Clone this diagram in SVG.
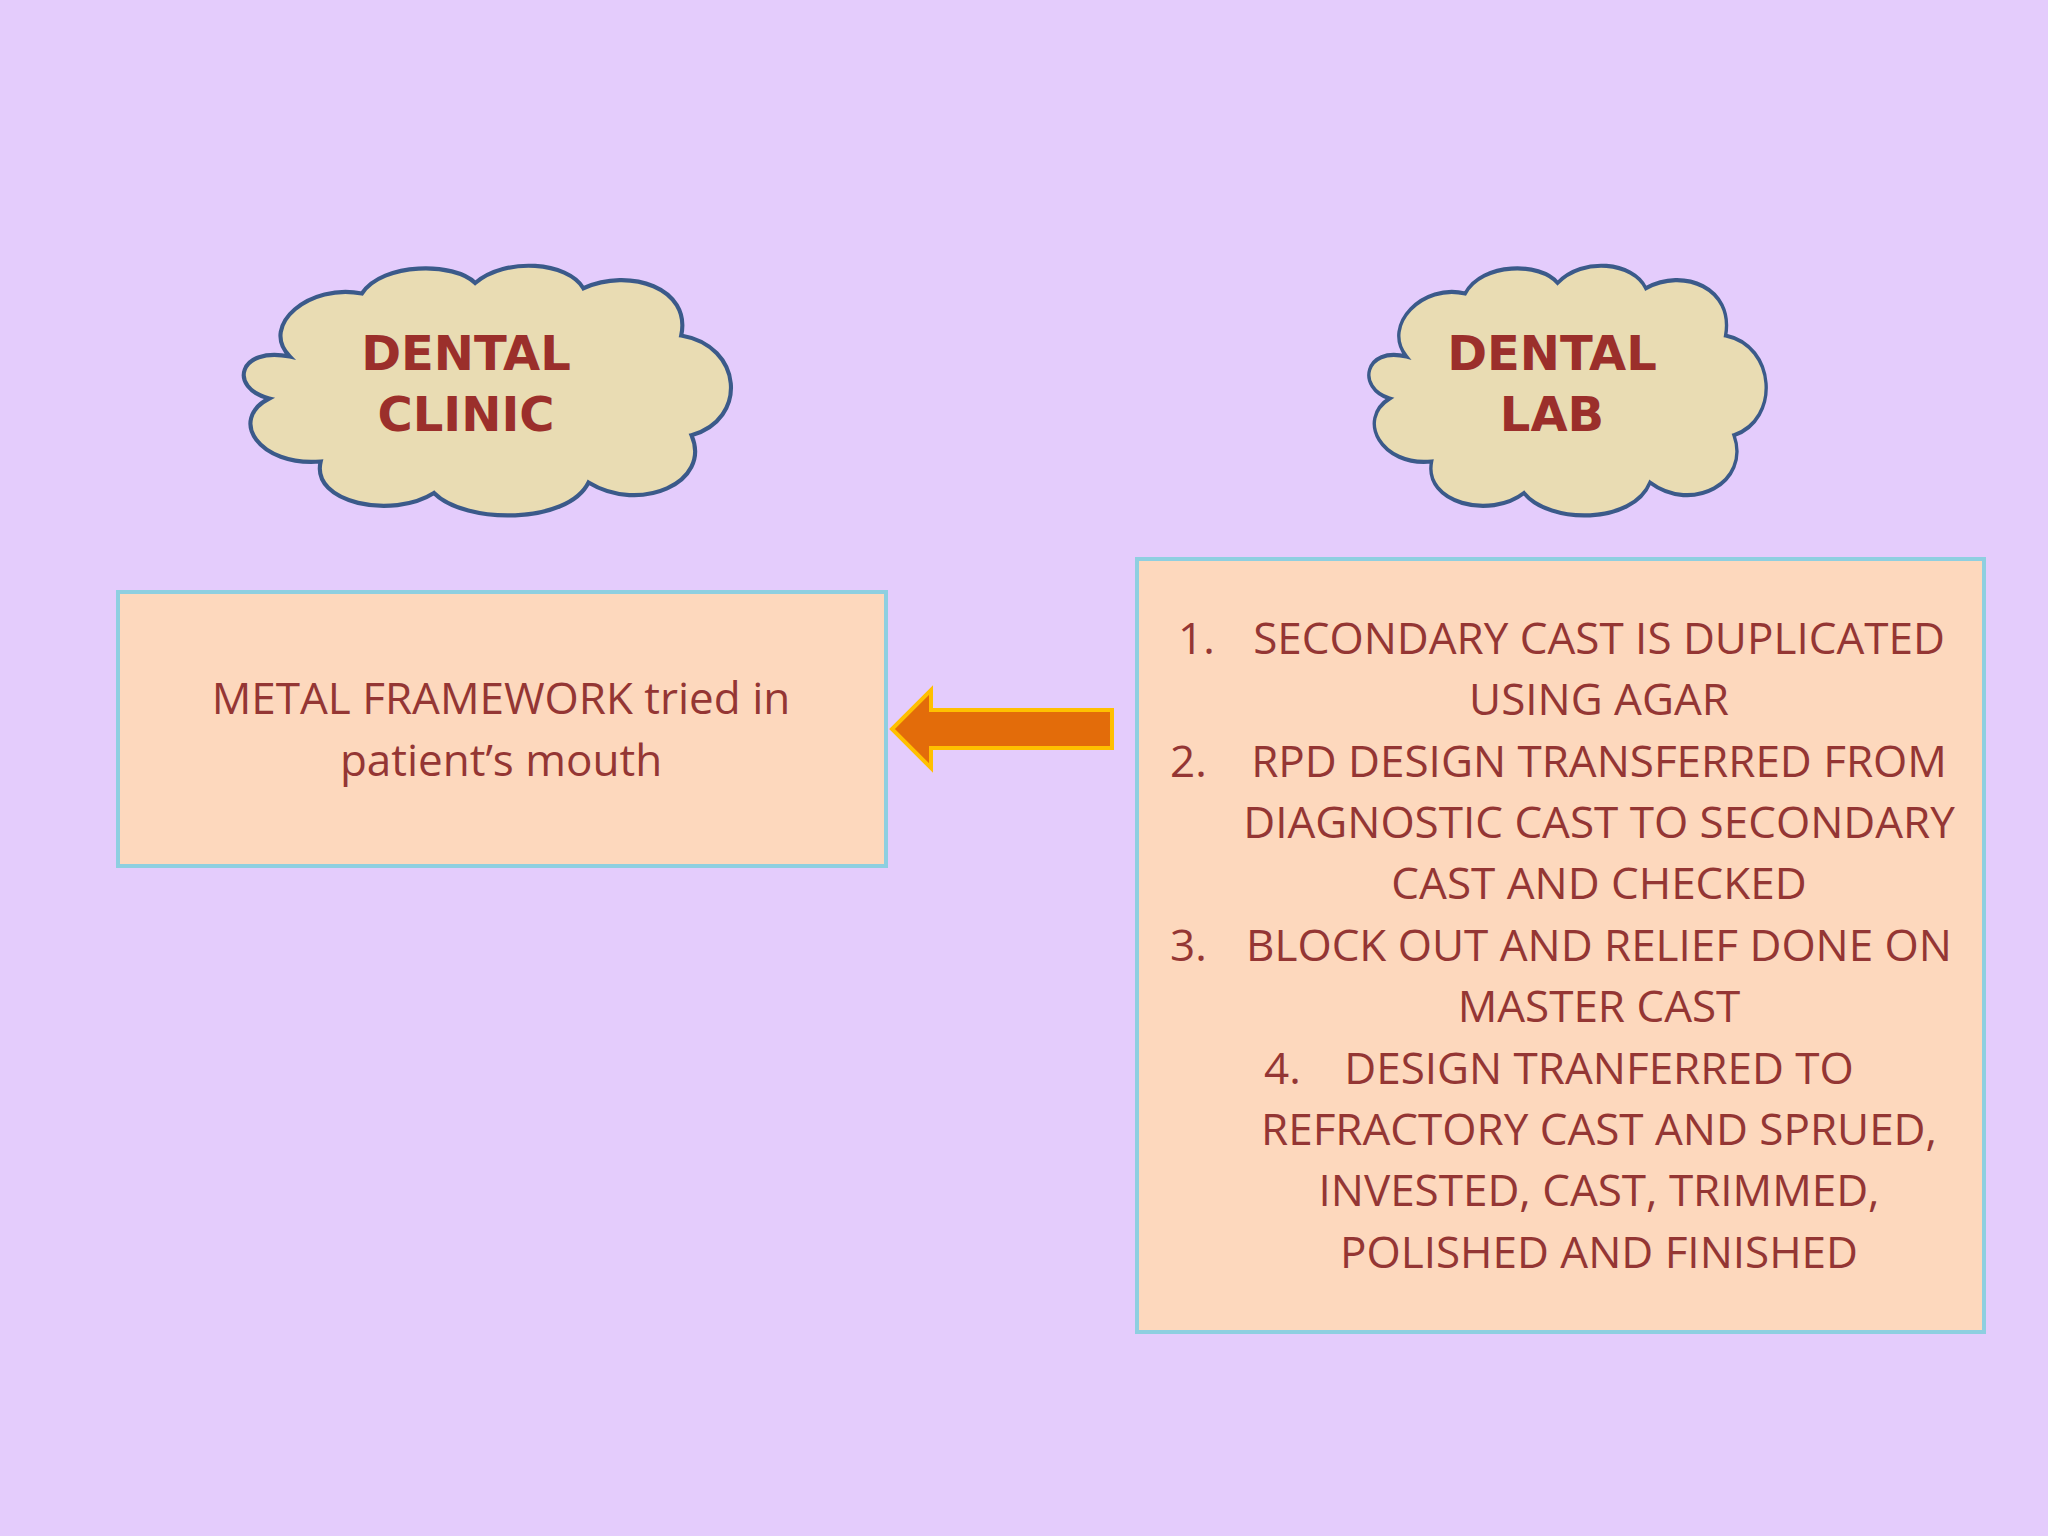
<svg xmlns="http://www.w3.org/2000/svg" width="2048" height="1536" viewBox="0 0 2048 1536">
<style>
.box{fill:#fdd8bd;stroke:#8ecfe0;stroke-width:4}
.cloud{fill:#e9dcb3;stroke:#3b5a8a;stroke-width:4}
.ct{font-family:"DejaVu Sans",sans-serif;font-weight:bold;font-size:48px;fill:#9b2f2b;text-anchor:middle}
.t{font-family:"Open Sans","Liberation Sans",sans-serif;font-size:44px;fill:#943634}
.c{text-anchor:middle}
</style>
<defs>
<path id="cl" d="M 60,90 C 30,60 80,20 130,30 C 150,0 220,0 240,20 C 270,-5 330,0 345,25 C 390,5 450,25 440,70 C 500,80 505,150 450,165 C 470,210 400,240 350,210 C 330,250 230,250 200,220 C 160,245 80,230 90,190 C 30,195 0,150 40,130 C 0,120 10,80 60,90 Z"/>
</defs>
<rect width="2048" height="1536" fill="#e4ccfc"/>
<g id="cloud-clinic">
<use href="#cl" class="cloud" transform="translate(228,262) scale(1.03,1.05)"/>
<text class="ct" x="466" y="370">DENTAL</text>
<text class="ct" x="466" y="431">CLINIC</text>
</g>
<g id="cloud-lab">
<use href="#cl" class="cloud" transform="translate(1356,262) scale(0.84,1.05)"/>
<text class="ct" x="1552" y="370">DENTAL</text>
<text class="ct" x="1552" y="431">LAB</text>
</g>
<g id="clinic-box">
<rect class="box" x="118" y="592" width="768" height="274"/>
<text class="t c" x="501" y="714">METAL FRAMEWORK  tried in</text>
<text class="t c" x="501" y="776">patient’s mouth</text>
</g>
<g id="lab-box">
<rect class="box" x="1137" y="559" width="847" height="773"/>
<g class="t">
<text x="1178" y="654">1.</text><text x="1599" y="654" class="c" dx="0">SECONDARY CAST IS DUPLICATED</text>
<text class="c" x="1599" y="715">USING AGAR</text>
<text x="1170" y="777">2.</text><text class="c" x="1599" y="777">RPD DESIGN TRANSFERRED FROM</text>
<text class="c" x="1599" y="838">DIAGNOSTIC CAST TO SECONDARY</text>
<text class="c" x="1599" y="899">CAST AND CHECKED</text>
<text x="1170" y="961">3.</text><text class="c" x="1599" y="961">BLOCK OUT AND RELIEF DONE ON</text>
<text class="c" x="1599" y="1022">MASTER CAST</text>
<text x="1264" y="1084">4.</text><text class="c" x="1599" y="1084">DESIGN TRANFERRED TO</text>
<text class="c" x="1599" y="1145">REFRACTORY CAST AND SPRUED,</text>
<text class="c" x="1599" y="1206">INVESTED, CAST, TRIMMED,</text>
<text class="c" x="1599" y="1268">POLISHED AND FINISHED</text>
</g>
</g>
<g id="connectors">
<path d="M1112,710 L931,710 L931,690 L892,729 L931,768 L931,748 L1112,748 Z" fill="#e36c0a" stroke="#ffc000" stroke-width="4"/>
</g>
</svg>
